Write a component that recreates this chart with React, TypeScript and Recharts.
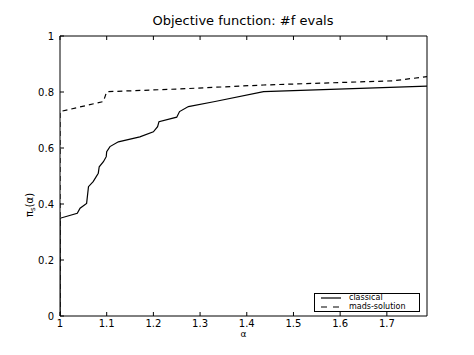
import React from "react";
import { LineChart, Line, XAxis, YAxis } from "recharts";

const classicalX = [1, 1, 1.037, 1.043, 1.057, 1.061, 1.071, 1.082, 1.084, 1.093, 1.099, 1.1, 1.107, 1.125, 1.171, 1.2, 1.209, 1.212, 1.25, 1.256, 1.275, 1.332, 1.436, 1.786];
const classicalY = [0, 0.349, 0.367, 0.385, 0.402, 0.462, 0.48, 0.51, 0.533, 0.551, 0.569, 0.587, 0.605, 0.622, 0.64, 0.658, 0.676, 0.694, 0.71, 0.73, 0.748, 0.766, 0.801, 0.821];
const madsX = [1, 1, 1.093, 1.1, 1.257, 1.436, 1.714, 1.786];
const madsY = [0, 0.73, 0.766, 0.801, 0.811, 0.825, 0.84, 0.855];
const xTicks = [1, 1.1, 1.2, 1.3, 1.4, 1.5, 1.6, 1.7];
const yTicks = [0, 0.2, 0.4, 0.6, 0.8, 1];

const classical = classicalX.map((x, i) => ({ x, y: classicalY[i] }));
const mads = madsX.map((x, i) => ({ x, y: madsY[i] }));

const font = "DejaVu Sans";
const tickStyle = { fill: "#000", fontSize: 10, fontFamily: font };
const empty = () => <g />;

function LegendBox() {
  return (
    <div style={{ position: "absolute", left: 314, top: 293, width: 106, height: 19, border: "1px solid #000", background: "#fff", fontFamily: font, fontSize: 8, lineHeight: "8.5px", padding: "0px 4px", boxSizing: "border-box", whiteSpace: "nowrap" }}>
      <div style={{ display: "flex", alignItems: "center", height: 8.5 }}>
        <svg width={24} height={8}><line x1={2} y1={4} x2={22} y2={4} stroke="#000" strokeWidth={1.2} /></svg>
        <span style={{ marginLeft: 6 }}>classical</span>
      </div>
      <div style={{ display: "flex", alignItems: "center", height: 8.5 }}>
        <svg width={24} height={8}><line x1={2} y1={4} x2={22} y2={4} stroke="#000" strokeWidth={1.2} strokeDasharray="6 6" /></svg>
        <span style={{ marginLeft: 6 }}>mads-solution</span>
      </div>
    </div>
  );
}

function YLabel() {
  return (
    <text transform="translate(33,205) rotate(-90)" textAnchor="middle" fontFamily={font} fontSize={10} fill="#000">
      π<tspan fontSize={7} dy={2}>s</tspan><tspan dy={-2}>(α)</tspan>
    </text>
  );
}

export default function App() {
  return (
    <div style={{ position: "absolute", left: 0, top: 0, width: 474, height: 355, background: "#fff" }}>
      <div style={{ position: "absolute", left: 0, top: 13, width: 486, textAlign: "center", fontFamily: font, fontSize: 13 }}>
        Objective function: #f evals
      </div>
      <LineChart width={474} height={355} margin={{ top: 35, right: 46, bottom: 9, left: 30 }}>
        <XAxis xAxisId="b" type="number" dataKey="x" domain={[1, 1.786]} ticks={xTicks} allowDataOverflow
          stroke="#000" tick={tickStyle} tickSize={-4} tickMargin={8} height={30}
          tickFormatter={(v: number) => String(Number(v.toFixed(1)))}
          label={{ value: "α", position: "insideBottom", offset: 9, fill: "#000", fontSize: 9, fontFamily: font }} />
        <XAxis xAxisId="t" orientation="top" type="number" dataKey="x" domain={[1, 1.786]} ticks={xTicks} allowDataOverflow
          stroke="#000" tick={empty} tickSize={-4} height={1} />
        <YAxis yAxisId="l" type="number" domain={[0, 1]} ticks={yTicks} stroke="#000" tick={tickStyle}
          tickSize={-4} tickMargin={10} width={30} label={<YLabel />} />
        <YAxis yAxisId="r" orientation="right" type="number" domain={[0, 1]} ticks={yTicks} stroke="#000"
          tick={empty} tickSize={-4} width={1} />
        <Line xAxisId="b" yAxisId="l" data={classical} dataKey="y" name="classical" type="linear" stroke="#000" strokeWidth={1.2} dot={false} isAnimationActive={false} />
        <Line xAxisId="b" yAxisId="l" data={mads} dataKey="y" name="mads-solution" type="linear" stroke="#000" strokeWidth={1.2} strokeDasharray="5 4" dot={false} isAnimationActive={false} />
      </LineChart>
      <LegendBox />
    </div>
  );
}
